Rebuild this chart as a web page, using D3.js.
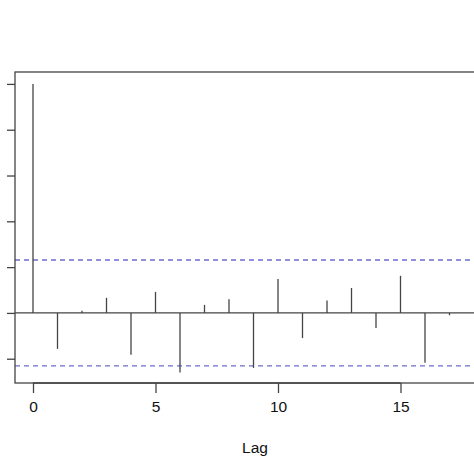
<!DOCTYPE html>
<html>
<head>
<meta charset="utf-8">
<script src="https://cdn.jsdelivr.net/npm/d3@7"></script>
<style>
  body { margin: 0; background: #fff; }
  svg { display: block; }
</style>
</head>
<body>
<div id="acf"></div>
<script>
var svgWidth = 474;
var svgHeight = 474;

// ACF values
var lags = [0, 1, 2, 3, 4, 5, 6, 7, 8, 9, 10, 11, 12, 13, 14, 15, 16, 17];
var acfValues = [1.0, -0.157, 0.01, 0.066, -0.183, 0.092, -0.26, 0.035, 0.06, -0.24,
  0.148, -0.11, 0.054, 0.109, -0.066, 0.162, -0.218, -0.01];
var ciBound = 0.231;
var xTicks = [0, 5, 10, 15];
var yTicks = [-0.2, 0, 0.2, 0.4, 0.6, 0.8, 1.0];

// plot box (right edge runs past the window)
var box = { left: 15, top: 72, right: 500, bottom: 383 };

var svg = d3.select("#acf")
  .append("svg")
  .attr("width", svgWidth)
  .attr("height", svgHeight);

var xScale = d3.scaleLinear()
  .domain([0, 1])
  .range([33, 57.5]);

var yScale = d3.scaleLinear()
  .domain([-0.306, 1.052])
  .range([box.bottom, box.top]);

var ink = "#444";

// zero line
svg.append("line")
  .attr("x1", box.left).attr("x2", box.right)
  .attr("y1", yScale(0)).attr("y2", yScale(0))
  .attr("stroke", ink)
  .attr("stroke-width", 1.2);

// confidence bounds
svg.selectAll("line.ci")
  .data([ciBound, -ciBound])
  .enter()
  .append("line")
  .classed("ci", true)
  .attr("x1", box.left).attr("x2", box.right)
  .attr("y1", d => yScale(d)).attr("y2", d => yScale(d))
  .attr("stroke", "#6c6cd0")
  .attr("stroke-width", 1.3)
  .attr("stroke-dasharray", "5,4");

// spikes
svg.selectAll("line.spike")
  .data(lags)
  .enter()
  .append("line")
  .classed("spike", true)
  .attr("x1", d => xScale(d)).attr("x2", d => xScale(d))
  .attr("y1", yScale(0))
  .attr("y2", (d, i) => yScale(acfValues[i]))
  .attr("stroke", ink)
  .attr("stroke-width", 1.3);

// frame
svg.append("rect")
  .attr("x", box.left)
  .attr("y", box.top)
  .attr("width", box.right - box.left)
  .attr("height", box.bottom - box.top)
  .attr("fill", "none")
  .attr("stroke", ink)
  .attr("stroke-width", 1.3);

// x axis
var bottomAxis = d3.axisBottom(xScale)
  .tickValues(xTicks)
  .tickFormat(d3.format("d"))
  .tickSize(10)
  .tickPadding(8);

var xAxis = svg.append("g")
  .attr("transform", `translate(0, ${box.bottom})`)
  .call(bottomAxis);

xAxis.select(".domain").remove();
xAxis.append("line")
  .attr("x1", xScale(0)).attr("x2", xScale(15))
  .attr("stroke", ink)
  .attr("stroke-width", 1.3);
xAxis.selectAll(".tick line")
  .attr("stroke", ink)
  .attr("stroke-width", 1.3);
xAxis.selectAll(".tick text")
  .attr("fill", "#111")
  .style("font-family", "Liberation Sans, Arial, sans-serif")
  .style("font-size", "15.5px");

// y axis: only the tick marks show, the labels are cropped out of the picture
var leftAxis = d3.axisLeft(yScale)
  .tickValues(yTicks)
  .tickSize(8)
  .tickFormat("");

var yAxis = svg.append("g")
  .attr("transform", `translate(${box.left}, 0)`)
  .call(leftAxis);

yAxis.select(".domain").remove();
yAxis.selectAll(".tick text").remove();
yAxis.selectAll(".tick line")
  .attr("stroke", ink)
  .attr("stroke-width", 1.3);

// axis title
svg.append("text")
  .attr("x", 255)
  .attr("y", 453)
  .attr("text-anchor", "middle")
  .attr("fill", "#111")
  .style("font-family", "Liberation Sans, Arial, sans-serif")
  .style("font-size", "15.5px")
  .text("Lag");
</script>
</body>
</html>
